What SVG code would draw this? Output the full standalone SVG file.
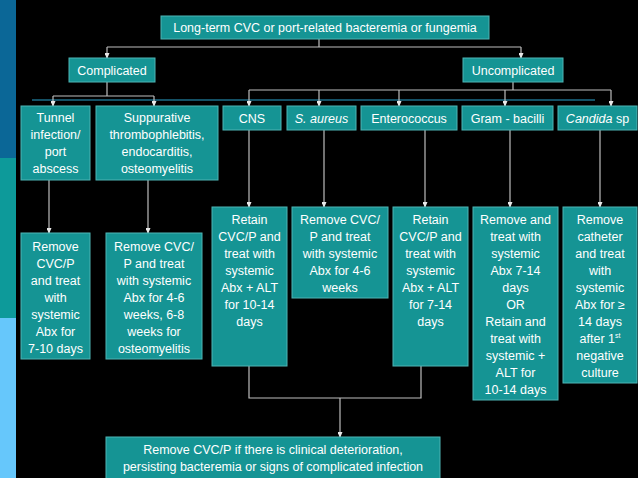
<svg xmlns="http://www.w3.org/2000/svg" width="638" height="478" viewBox="0 0 638 478">
<defs>
<marker id="a" markerWidth="6" markerHeight="5" refX="5" refY="2.5" orient="auto" markerUnits="userSpaceOnUse"><path d="M0,0L6,2.5L0,5z" fill="#e8e8e8"/></marker>
<style>
.b{fill:#159494;stroke:#4fb5b5;stroke-width:1}
.t{font-family:"Liberation Sans",Arial,sans-serif;font-size:12.5px;fill:#ffffff;text-anchor:middle}
.c{fill:none;stroke:#bdbdbd;stroke-width:1.2}
.m{marker-end:url(#a)}
</style>
</defs>
<rect width="638" height="478" fill="#000"/>
<rect x="0" y="0" width="16" height="158" fill="#0b6797"/>
<rect x="0" y="158" width="16" height="160" fill="#0d9a9a"/>
<rect x="0" y="318" width="16" height="160" fill="#66c7fb"/>
<line x1="32" y1="100" x2="595" y2="100" stroke="#1b6c88" stroke-width="1.5"/>
<g id="connectors">
<path class="c" d="M319,39V47M107,47H521"/>
<path class="c m" d="M107,47V58"/><path class="c m" d="M521,47V58"/>
<path class="c" d="M107,82V96M53,96H154"/>
<path class="c m" d="M53,96V106"/><path class="c m" d="M154,96V106"/>
<path class="c" d="M513,82V90M249,90H611"/>
<path class="c m" d="M249,90V106"/><path class="c m" d="M319,90V106"/><path class="c m" d="M399,90V106"/><path class="c m" d="M505,90V106"/><path class="c m" d="M611,90V106"/>
<path class="c m" d="M49,180V233"/><path class="c m" d="M148,180V233"/>
<path class="c m" d="M249,130V207"/><path class="c m" d="M324,130V207"/><path class="c m" d="M425,130V207"/><path class="c m" d="M510,130V207"/><path class="c m" d="M600,130V207"/>
<path class="c" d="M249,366V398H421V366"/>
<path class="c m" d="M340,398V437"/>
</g>
<g id="root"><rect class="b" x="161" y="16" width="328" height="23"/><text class="t" x="325" y="32">Long-term CVC or port-related bacteremia or fungemia</text></g>
<g id="complicated"><rect class="b" x="69" y="58" width="86" height="24"/><text class="t" x="112" y="75">Complicated</text></g>
<g id="uncomplicated"><rect class="b" x="463" y="58" width="100" height="24"/><text class="t" x="513" y="75">Uncomplicated</text></g>
<g id="tunnel"><rect class="b" x="21" y="106" width="69" height="74"/><text class="t" x="55.5" y="122">Tunnel<tspan x="55.5" dy="17">infection/</tspan><tspan x="55.5" dy="17">port</tspan><tspan x="55.5" dy="17">abscess</tspan></text></g>
<g id="suppurative"><rect class="b" x="96" y="106" width="122" height="74"/><text class="t" x="157" y="122">Suppurative<tspan x="157" dy="17">thrombophlebitis,</tspan><tspan x="157" dy="17">endocarditis,</tspan><tspan x="157" dy="17">osteomyelitis</tspan></text></g>
<g id="cns"><rect class="b" x="223" y="106" width="58" height="24"/><text class="t" x="252" y="123">CNS</text></g>
<g id="saureus"><rect class="b" x="287" y="106" width="69" height="24"/><text class="t" x="321.5" y="123" font-style="italic">S. aureus</text></g>
<g id="enterococcus"><rect class="b" x="361" y="106" width="96" height="24"/><text class="t" x="409" y="123">Enterococcus</text></g>
<g id="gram"><rect class="b" x="462" y="106" width="91" height="24"/><text class="t" x="507.5" y="123">Gram - bacilli</text></g>
<g id="candida"><rect class="b" x="558" y="106" width="79" height="24"/><text class="t" x="597.5" y="123"><tspan font-style="italic">Candida</tspan> sp</text></g>
<g id="tunnel-tx"><rect class="b" x="21" y="233" width="69" height="126"/><text class="t" x="55.5" y="251">Remove<tspan x="55.5" dy="17">CVC/P</tspan><tspan x="55.5" dy="17">and treat</tspan><tspan x="55.5" dy="17">with</tspan><tspan x="55.5" dy="17">systemic</tspan><tspan x="55.5" dy="17">Abx for</tspan><tspan x="55.5" dy="17">7-10 days</tspan></text></g>
<g id="supp-tx"><rect class="b" x="106" y="233" width="96" height="126"/><text class="t" x="154" y="251">Remove CVC/<tspan x="154" dy="17">P and treat</tspan><tspan x="154" dy="17">with systemic</tspan><tspan x="154" dy="17">Abx for 4-6</tspan><tspan x="154" dy="17">weeks, 6-8</tspan><tspan x="154" dy="17">weeks for</tspan><tspan x="154" dy="17">osteomyelitis</tspan></text></g>
<g id="cns-tx"><rect class="b" x="212" y="207" width="75" height="159"/><text class="t" x="249.5" y="224">Retain<tspan x="249.5" dy="17">CVC/P and</tspan><tspan x="249.5" dy="17">treat with</tspan><tspan x="249.5" dy="17">systemic</tspan><tspan x="249.5" dy="17">Abx + ALT</tspan><tspan x="249.5" dy="17">for 10-14</tspan><tspan x="249.5" dy="17">days</tspan></text></g>
<g id="sa-tx"><rect class="b" x="292" y="207" width="96" height="91"/><text class="t" x="340" y="224">Remove CVC/<tspan x="340" dy="17">P and treat</tspan><tspan x="340" dy="17">with systemic</tspan><tspan x="340" dy="17">Abx for 4-6</tspan><tspan x="340" dy="17">weeks</tspan></text></g>
<g id="ent-tx"><rect class="b" x="393" y="207" width="75" height="159"/><text class="t" x="430.5" y="224">Retain<tspan x="430.5" dy="17">CVC/P and</tspan><tspan x="430.5" dy="17">treat with</tspan><tspan x="430.5" dy="17">systemic</tspan><tspan x="430.5" dy="17">Abx + ALT</tspan><tspan x="430.5" dy="17">for 7-14</tspan><tspan x="430.5" dy="17">days</tspan></text></g>
<g id="gram-tx"><rect class="b" x="473" y="207" width="85" height="193"/><text class="t" x="515.5" y="224">Remove and<tspan x="515.5" dy="17">treat with</tspan><tspan x="515.5" dy="17">systemic</tspan><tspan x="515.5" dy="17">Abx 7-14</tspan><tspan x="515.5" dy="17">days</tspan><tspan x="515.5" dy="17">OR</tspan><tspan x="515.5" dy="17">Retain and</tspan><tspan x="515.5" dy="17">treat with</tspan><tspan x="515.5" dy="17">systemic +</tspan><tspan x="515.5" dy="17">ALT for</tspan><tspan x="515.5" dy="17">10-14 days</tspan></text></g>
<g id="candida-tx"><rect class="b" x="563" y="207" width="74" height="176"/><text class="t" x="600" y="224">Remove<tspan x="600" dy="17">catheter</tspan><tspan x="600" dy="17">and treat</tspan><tspan x="600" dy="17">with</tspan><tspan x="600" dy="17">systemic</tspan><tspan x="600" dy="17">Abx for ≥</tspan><tspan x="600" dy="17">14 days</tspan><tspan x="600" dy="17">after 1<tspan font-size="7" dy="-5">st</tspan></tspan><tspan x="600" dy="22">negative</tspan><tspan x="600" dy="17">culture</tspan></text></g>
<g id="bottom"><rect class="b" x="106" y="437" width="334" height="42"/><text class="t" x="273" y="454">Remove CVC/P if there is clinical deterioration,<tspan x="273" dy="17">persisting bacteremia or signs of complicated infection</tspan></text></g>
</svg>
